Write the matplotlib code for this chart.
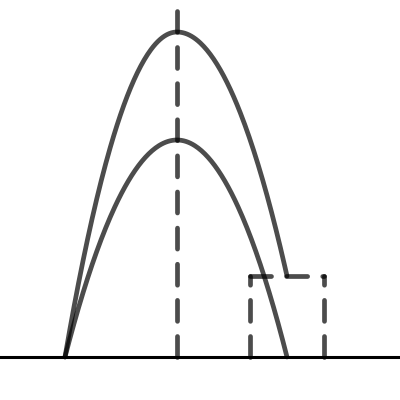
import numpy as np
import matplotlib
matplotlib.use("Agg")
import matplotlib.pyplot as plt

# two jump arcs (pixel units, height above ground)
launch_x = [65, 65]
apex_x = [177, 177]
apex_h = [325, 217]
land_x = [287, 287]
land_h = [81, 0]

# dashed box the high arc lands on
box_left = 250
box_right = 324
box_h = 81

# dashed apex marker
marker_x = 177
marker_top = 346

ink = (0, 0, 0, 0.7)
lw = 3.4
dash = (4.45, 3.2)

fig = plt.figure(figsize=(4, 4), dpi=100)
ax = fig.add_axes([0, 0, 1, 1])
ax.set_xlim(0, 400)
ax.set_ylim(-43, 357)
ax.axis("off")

for x0, xa, ha, x1, h1 in zip(launch_x, apex_x, apex_h, land_x, land_h):
    wl = xa - x0
    wr = (x1 - xa) / np.sqrt(1 - h1 / ha)
    xs_l = np.linspace(x0, xa, 100)
    xs_r = np.linspace(xa, x1, 100)
    ys_l = ha * (1 - ((xs_l - xa) / wl) ** 2)
    ys_r = ha * (1 - ((xs_r - xa) / wr) ** 2)
    ax.plot(np.r_[xs_l, xs_r[1:]], np.r_[ys_l, ys_r[1:]], color=ink, lw=lw,
            solid_capstyle="round")

def dashed(xs, ys):
    line, = ax.plot(xs, ys, color=ink, lw=lw, dash_capstyle="round")
    line.set_dashes(dash)

dashed([marker_x, marker_x], [0, marker_top])
dashed([box_left, box_left], [0, box_h])
dashed([box_right, box_right], [0, box_h])
dashed([box_left, box_right], [box_h, box_h])

ax.axhline(0, color="black", lw=2.2, zorder=5)

fig.savefig("out.png", dpi=100)
